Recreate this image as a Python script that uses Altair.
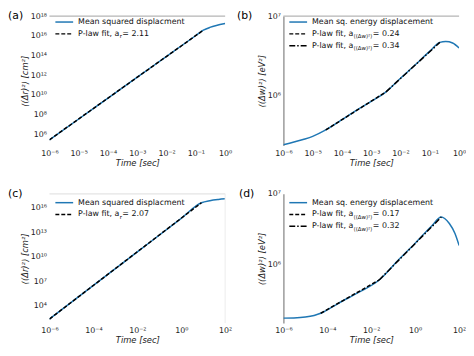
import math
import altair as alt
import pandas as pd

# ---------------- data ----------------
# (a) mean squared displacement
a_time = [1e-6, 1e-5, 1e-4, 1e-3, 1e-2, 1e-1, 0.18, 0.3, 0.5, 1.0]
a_msd = [2.7e5, 3.5e7, 4.7e9, 6.2e11, 8.1e13, 1.07e16, 3.7e16, 7.1e16, 1.12e17, 1.74e17]
a_fit_time = [1e-6, 0.18]
a_fit_val = [2.7e5, 3.7e16]

# (b) mean squared energy displacement
b_time = [1e-6, 4.7e-6, 1e-5, 2.8e-5, 1e-4, 3.2e-4, 1e-3, 3.2e-3, 1e-2, 3.2e-2, 0.1, 0.22, 0.35, 0.6, 1.0]
b_msd = [2.42e5, 2.82e5, 3.09e5, 3.72e5, 5.0e5, 6.61e5, 8.5e5, 1.12e6, 1.66e6, 2.45e6, 3.63e6,
         4.68e6, 4.79e6, 4.6e6, 3.98e6]
b_fit1_time = [2.8e-5, 3.2e-3]
b_fit1_val = [3.72e5, 1.12e6]
b_fit2_time = [3.2e-3, 0.22]
b_fit2_val = [1.12e6, 4.68e6]

# (c) mean squared displacement
c_time = [1e-6, 1e-4, 1e-2, 1.0, 8.3, 20, 50, 100]
c_msd = [2.5e2, 3.2e6, 4.0e10, 5.0e14, 4.0e16, 7.1e16, 1.0e17, 1.2e17]
c_fit_time = [1e-6, 8.3]
c_fit_val = [2.5e2, 4.0e16]

# (d) mean squared energy displacement
d_time = [1e-6, 3e-6, 1e-5, 2.5e-5, 5e-5, 1e-4, 3.2e-4, 2.5e-3, 0.023, 0.155, 1.0, 5.5, 15.5,
          22, 36, 65, 100]
d_msd = [1.74e5, 1.75e5, 1.80e5, 1.90e5, 2.04e5, 2.28e5, 2.82e5, 3.98e5, 6.03e5, 1.12e6, 2.0e6,
         3.47e6, 4.68e6, 4.47e6, 3.80e6, 2.75e6, 1.86e6]
d_fit1_time = [5e-5, 0.023]
d_fit1_val = [2.04e5, 6.03e5]
d_fit2_time = [0.023, 15.5]
d_fit2_val = [6.03e5, 4.68e6]

# ticks
ab_xticks = [1e-6, 1e-5, 1e-4, 1e-3, 1e-2, 1e-1, 1e0]
cd_xticks = [1e-6, 1e-4, 1e-2, 1e0, 1e2]
a_yticks = [1e6, 1e8, 1e10, 1e12, 1e14, 1e16, 1e18]
b_yticks = [1e6, 1e7]
c_yticks = [1e4, 1e7, 1e10, 1e13, 1e16]
d_yticks = [1e6, 1e7]

# legend texts: (style, main text, subscript, suffix)
a_legend = [("solid", "Mean squared displacment", "", ""),
            ("dash", "P-law fit, a", "r", " = 2.11")]
b_legend = [("solid", "Mean sq. energy displacement", "", ""),
            ("dash", "P-law fit, a", "⟨(Δw)²⟩", "= 0.24"),
            ("dashdot", "P-law fit, a", "⟨(Δw)²⟩", "= 0.34")]
c_legend = [("solid", "Mean squared displacment", "", ""),
            ("dash", "P-law fit, a", "r", " = 2.07")]
d_legend = [("solid", "Mean sq. energy displacement", "", ""),
            ("dash", "P-law fit, a", "⟨(Δw)²⟩", "= 0.17"),
            ("dashdot", "P-law fit, a", "⟨(Δw)²⟩", "= 0.32")]

# ---------------- styling ----------------
FONT = "DejaVu Sans"
BLUE = "#1f77b4"
DASHES = {"solid": [1, 0], "dash": [4, 2], "dashdot": [6, 2, 1.5, 2]}
W, H = 178, 131
SUP = str.maketrans("-0123456789", "⁻⁰¹²³⁴⁵⁶⁷⁸⁹")

# approximate DejaVu Sans advance widths (em) for subscript placement
CW = {"P": .603, "-": .361, "l": .278, "a": .613, "w": .818, " ": .318, "f": .352, "i": .278,
      "t": .392, ",": .318, "r": .411, "⟨": .39, "⟩": .39, "(": .39, ")": .39, "Δ": .684, "²": .40}


def text_w(s, size):
    return sum(CW.get(ch, 0.6) for ch in s) * size


def label_expr(ticks):
    expr = "''"
    for t in reversed(ticks):
        e = int(round(math.log10(t)))
        lab = "10" + str(e).translate(SUP)
        expr = f"round(log(datum.value)/LN10) == {e} ? '{lab}' : ({expr})"
    return expr


def one(text):
    return pd.DataFrame({"s": [text]})


def panel(time, vals, fits, xdom, ydom, xticks, yticks, ytitle, legend, tag, tagx,
          top_spine, left_spine, right_spine, leg_y0):
    xenc = alt.X("t:Q", scale=alt.Scale(type="log", domain=xdom, nice=False),
                 axis=alt.Axis(values=xticks, labelExpr=label_expr(xticks), domain=False,
                               ticks=False, grid=False, labelFont=FONT, labelFontSize=8,
                               labelColor="#222", labelPadding=4, labelFlush=False,
                               title="Time [sec]", titleFont=FONT, titleFontStyle="italic",
                               titleFontWeight="normal", titleFontSize=8.5, titleColor="#222",
                               titlePadding=1))
    yenc = alt.Y("v:Q", scale=alt.Scale(type="log", domain=ydom, nice=False),
                 axis=alt.Axis(values=yticks, labelExpr=label_expr(yticks), domain=left_spine,
                               domainColor="#9a9a9a", domainWidth=1.5, ticks=False, grid=False,
                               labelFont=FONT, labelFontSize=8, labelColor="#222",
                               labelPadding=3, labelFlush=False, title=ytitle, titleFont=FONT,
                               titleFontStyle="italic", titleFontWeight="normal",
                               titleFontSize=8.5, titleColor="#222", titlePadding=1))
    df = pd.DataFrame({"t": time, "v": vals})
    layers = [alt.Chart(df).mark_line(color=BLUE, strokeWidth=1.5, interpolate="monotone",
                                      clip=True).encode(x=xenc, y=yenc)]
    for style, ft, fv in fits:
        fdf = pd.DataFrame({"t": ft, "v": fv})
        layers.append(alt.Chart(fdf).mark_line(color="black", strokeWidth=1.5,
                                               strokeDash=DASHES[style], clip=True)
                      .encode(x="t:Q", y="v:Q"))
    if top_spine:
        layers.append(alt.Chart(one("")).mark_rule(color=top_spine, strokeWidth=1.2).encode(
            x=alt.value(0), x2=alt.value(W), y=alt.value(0)))
    if right_spine:
        layers.append(alt.Chart(one("")).mark_rule(color="#ececec", strokeWidth=1).encode(
            x=alt.value(W), y=alt.value(0), y2=alt.value(H)))
    # panel tag
    layers.append(alt.Chart(one(tag)).mark_text(align="left", baseline="middle", font=FONT,
                                                 fontSize=11, color="black")
                  .encode(x=alt.value(tagx), y=alt.value(0), text="s:N"))
    # legend
    for i, (style, main, sub, suffix) in enumerate(legend):
        ly = leg_y0 + 12 * i
        col = BLUE if style == "solid" else "black"
        rule = alt.Chart(one("")).mark_rule(color=col, strokeWidth=1.5)
        if style != "solid":
            rule = alt.Chart(one("")).mark_rule(color=col, strokeWidth=1.5,
                                                strokeDash=DASHES[style])
        layers.append(rule.encode(x=alt.value(6), x2=alt.value(24), y=alt.value(ly)))
        tx = 29
        layers.append(alt.Chart(one(main)).mark_text(align="left", baseline="middle", font=FONT,
                                                      fontSize=8, color="#111")
                      .encode(x=alt.value(tx), y=alt.value(ly), text="s:N"))
        if sub:
            sx = tx + text_w(main, 8)
            layers.append(alt.Chart(one(sub)).mark_text(align="left", baseline="middle",
                                                         font=FONT, fontSize=5.5, color="#111")
                          .encode(x=alt.value(sx), y=alt.value(ly + 2.5), text="s:N"))
            fx = sx + text_w(sub, 5.5) + 0.5
            layers.append(alt.Chart(one(suffix)).mark_text(align="left", baseline="middle",
                                                            font=FONT, fontSize=8, color="#111")
                          .encode(x=alt.value(fx), y=alt.value(ly), text="s:N"))
    return alt.layer(*layers).properties(width=W, height=H)


pa = panel(a_time, a_msd, [("dash", a_fit_time, a_fit_val)], [1e-6, 1.0], [7.2e4, 1e18],
           ab_xticks, a_yticks, "⟨(Δr)²⟩ [cm²]", a_legend, "(a)", -42, "#b5b5b5", False, False, 6)
pb = panel(b_time, b_msd, [("dash", b_fit1_time, b_fit1_val), ("dashdot", b_fit2_time, b_fit2_val)],
           [1e-6, 1.0], [2.38e5, 1e7], ab_xticks, b_yticks, "⟨(Δw)²⟩ [eV²]", b_legend, "(b)", -47,
           "#b5b5b5", True, False, 6)
pc = panel(c_time, c_msd, [("dash", c_fit_time, c_fit_val)], [1e-6, 100.0], [80, 5e17],
           cd_xticks, c_yticks, "⟨(Δr)²⟩ [cm²]", c_legend, "(c)", -42, "#e4e4e4", False, True, 9)
pd_ = panel(d_time, d_msd, [("dash", d_fit1_time, d_fit1_val), ("dashdot", d_fit2_time, d_fit2_val)],
            [1e-6, 100.0], [1.48e5, 1e7], cd_xticks, d_yticks, "⟨(Δw)²⟩ [eV²]", d_legend, "(d)", -45,
            None, True, False, 9)

chart = alt.concat(pa, pb, pc, pd_, columns=2, spacing=alt.RowColnumber(row=49, column=59),
                   bounds="flush").properties(
    padding=0, background="white"
).configure_view(stroke=None).resolve_scale(x="independent", y="independent")

chart.save("out.html", embed_options={"renderer": "svg", "actions": False})
